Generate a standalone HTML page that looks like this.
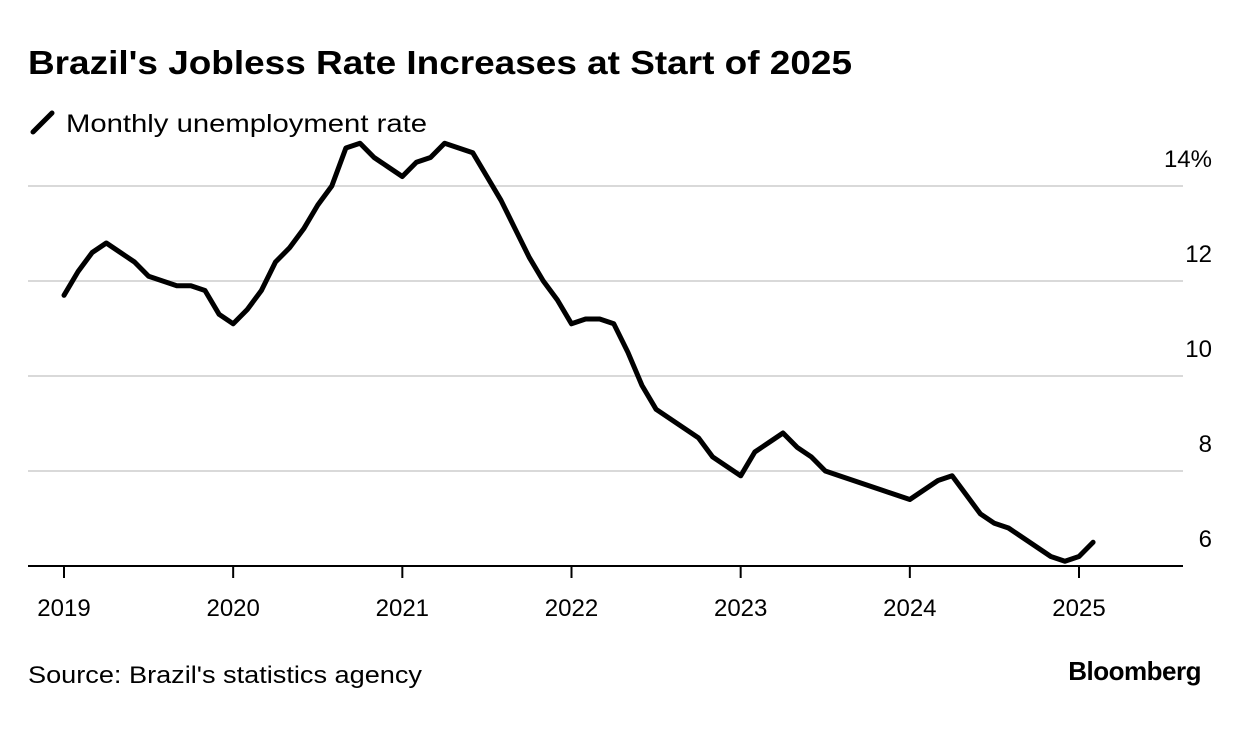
<!DOCTYPE html>
<html><head><meta charset="utf-8"><style>
body{margin:0;background:#fff;font-family:"Liberation Sans",Arial,sans-serif;}
svg text{font-family:"Liberation Sans",Arial,sans-serif;}
</style></head><body>
<svg width="1240" height="732" xmlns="http://www.w3.org/2000/svg">
<text x="28" y="74" font-size="33" font-weight="bold" fill="#000" textLength="824" lengthAdjust="spacingAndGlyphs">Brazil's Jobless Rate Increases at Start of 2025</text>
<g>
<line x1="33" y1="132" x2="52" y2="113" stroke="#000" stroke-width="5" stroke-linecap="round"/>
<text x="66" y="132" font-size="25" fill="#000" textLength="361" lengthAdjust="spacingAndGlyphs">Monthly unemployment rate</text>
</g>
<g id="grid"></g><g id="axis"></g><path id="line" fill="none" stroke="#000" stroke-width="5" stroke-linejoin="round" stroke-linecap="round"/>
<text x="28" y="683" font-size="24" fill="#000" textLength="394" lengthAdjust="spacingAndGlyphs">Source: Brazil's statistics agency</text>
<text x="1201" y="680" font-size="26" font-weight="bold" text-anchor="end" fill="#000" letter-spacing="-0.5">Bloomberg</text>
</svg>
<script>
const yTicks=[6,8,10,12,14];
const yTickLabels=["6","8","10","12","14%"];
const years=[2019,2020,2021,2022,2023,2024,2025];
const values=[11.7,12.2,12.6,12.8,12.6,12.4,12.1,12.0,11.9,11.9,11.8,11.3,
11.1,11.4,11.8,12.4,12.7,13.1,13.6,14.0,14.8,14.9,14.6,14.4,
14.2,14.5,14.6,14.9,14.8,14.7,14.2,13.7,13.1,12.5,12.0,11.6,
11.1,11.2,11.2,11.1,10.5,9.8,9.3,9.1,8.9,8.7,8.3,8.1,
7.9,8.4,8.6,8.8,8.5,8.3,8.0,7.9,7.8,7.7,7.6,7.5,
7.4,7.6,7.8,7.9,7.5,7.1,6.9,6.8,6.6,6.4,6.2,6.1,
6.2,6.5];
const NS="http://www.w3.org/2000/svg";
const x=m=>64+m*(1079-64)/72;
const y=v=>566-(v-6)*47.5;
const grid=document.getElementById('grid'),axis=document.getElementById('axis');
yTicks.forEach((t,i)=>{
 if(t>6){const l=document.createElementNS(NS,'line');
 l.setAttribute('x1',28);l.setAttribute('x2',1183);l.setAttribute('y1',y(t));l.setAttribute('y2',y(t));
 l.setAttribute('stroke','#d9d9d9');l.setAttribute('stroke-width',2);
 
 
 grid.appendChild(l);}
 const tx=document.createElementNS(NS,'text');
 tx.setAttribute('x',1212);tx.setAttribute('y',y(t)-19);tx.setAttribute('text-anchor','end');tx.setAttribute('font-size',24);
 tx.textContent=yTickLabels[i];
 
 
 axis.appendChild(tx);
});
const base=document.createElementNS(NS,'line');
base.setAttribute('x1',28);base.setAttribute('x2',1183);base.setAttribute('y1',566);base.setAttribute('y2',566);base.setAttribute('stroke','#000');base.setAttribute('stroke-width',2);


axis.appendChild(base);
years.forEach((yr,i)=>{
 const xx=x(i*12);
 const t=document.createElementNS(NS,'line');
 t.setAttribute('x1',xx);t.setAttribute('x2',xx);t.setAttribute('y1',566);t.setAttribute('y2',578);t.setAttribute('stroke','#000');t.setAttribute('stroke-width',2);
 
 
 axis.appendChild(t);
 const tx=document.createElementNS(NS,'text');
 tx.setAttribute('x',xx);tx.setAttribute('y',616);tx.setAttribute('text-anchor','middle');tx.setAttribute('font-size',24);
 tx.textContent=yr;
 
 
 axis.appendChild(tx);
});
document.getElementById('line').setAttribute('d',values.map((v,i)=>(i?'L':'M')+x(i).toFixed(1)+','+y(v).toFixed(1)).join(''));
</script>
</body></html>
